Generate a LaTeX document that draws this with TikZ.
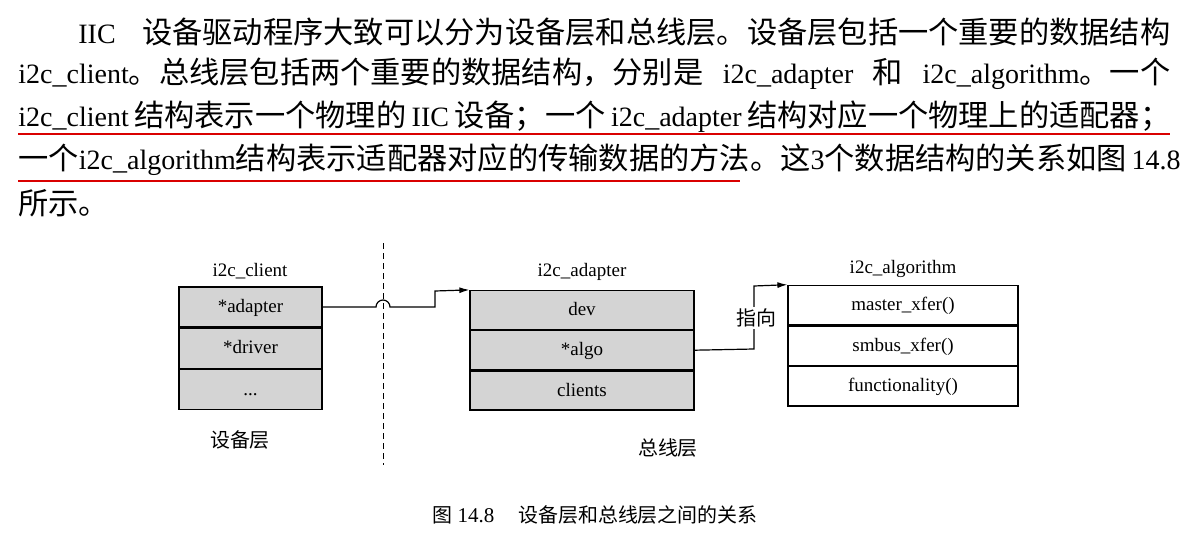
\documentclass[tikz,border=0pt]{standalone}
\usepackage{fontspec}
\setmainfont{Liberation Serif}
\newfontfamily\cjk{Noto Sans CJK SC}[Scale=1.08]
\newfontfamily\cjks{Noto Sans CJK SC}[Scale=0.95]
\usetikzlibrary{arrows.meta,positioning}
\begin{document}
\begin{tikzpicture}[x=0.5pt,y=-0.5pt,
  para/.style={anchor=west,inner sep=0pt,font=\fontsize{14}{16}\selectfont},
  row/.style={draw,line width=0.6pt,minimum height=20pt,inner sep=0pt,text height=1.5ex,text depth=0.25ex,font=\fontsize{9.5}{11}\selectfont},
  grayrow/.style={row,fill=black!17},
  ttl/.style={font=\fontsize{9.5}{11}\selectfont},
  lbl/.style={font=\cjks\fontsize{10.5}{12}\selectfont},
  conn/.style={line width=0.6pt,-{Latex[length=5pt,width=3pt]}},
  redline/.style={draw=red!85!black,line width=1.2pt}]
\useasboundingbox (0,0) rectangle (1198,551);
% paragraph
\node[para] (l1) at (78,32) {\hbox to 546pt{IIC\hfil{\cjk 设备驱动程序大致可以分为设备层和总线层。设备层包括一个重要的数据结构}}};
\node[para] (l2) at (18,74) {\hbox to 576pt{i2c\_client{\cjk 。总线层包括两个重要的数据结构，分别是} i2c\_adapter {\cjk 和} i2c\_algorithm{\cjk 。一个}}};
\node[para] (l3) at (18,117) {\hbox to 576pt{i2c\_client {\cjk 结构表示一个物理的} IIC {\cjk 设备；一个} i2c\_adapter {\cjk 结构对应一个物理上的适配器；}}};
\node[para] (l4) at (18,160) {\hbox to 576pt{{\cjk 一个}i2c\_algorithm{\cjk 结构表示适配器对应的传输数据的方法。这}3{\cjk 个数据结构的关系如图} 14.8}};
\node[para] (l5) at (18,203) {\cjk 所示。};
\coordinate (u1a) at (18,134); \coordinate (u1b) at (1170,134);
\coordinate (u2a) at (18,181); \coordinate (u2b) at (740,181);
\draw[redline] (u1a) -- (u1b);
\draw[redline] (u2a) -- (u2b);
% i2c_client
\node[ttl] (tc) at (250,271) {i2c\_client};
\node[grayrow,minimum width=71.5pt] (c1) at (250.5,307) {*adapter};
\node[grayrow,minimum width=71.5pt,below=0pt of c1] (c2) {*driver};
\node[grayrow,minimum width=71.5pt,below=0pt of c2] (c3) {...};
\node[lbl] (dl) at (240,440) {设备层};
% divider
\coordinate (d1) at (383,243); \coordinate (d2) at (383,465);
\draw[line width=0.5pt,dash pattern=on 3pt off 2pt] (d1) -- (d2);
% i2c_adapter
\node[ttl] (ta) at (582,272) {i2c\_adapter};
\node[grayrow,minimum width=112pt,minimum height=19.5pt] (a1) at (582,310) {dev};
\node[grayrow,minimum width=112pt,minimum height=19.5pt,below=0pt of a1] (a2) {*algo};
\node[grayrow,minimum width=112pt,minimum height=19.5pt,below=0pt of a2] (a3) {clients};
\node[lbl] (bl) at (668,448) {总线层};
% i2c_algorithm
\node[ttl] (tg) at (903,269) {i2c\_algorithm};
\node[row,minimum width=115pt,minimum height=19.7pt] (g1) at (903,305) {master\_xfer()};
\node[row,minimum width=115pt,minimum height=19.7pt,below=0pt of g1] (g2) {smbus\_xfer()};
\node[row,minimum width=115pt,minimum height=19.7pt,below=0pt of g2] (g3) {functionality()};
% connectors
\draw[conn] (c1.east) -- (376,307) arc[start angle=-180,end angle=0,radius=7] -- (435,307) -- (435,291) -- (a1.north west);
\draw[conn] (a2.east) -- (754,349) -- (754,286) -- (g1.north west);
\node[lbl,fill=white,inner sep=1pt] (zx) at (756,318) {指向};
% caption
\node[font=\fontsize{10.5}{12}\selectfont] (cap) at (595,515) {{\cjks 图} 14.8\hspace{12pt}{\cjks 设备层和总线层之间的关系}};
\end{tikzpicture}
\end{document}
